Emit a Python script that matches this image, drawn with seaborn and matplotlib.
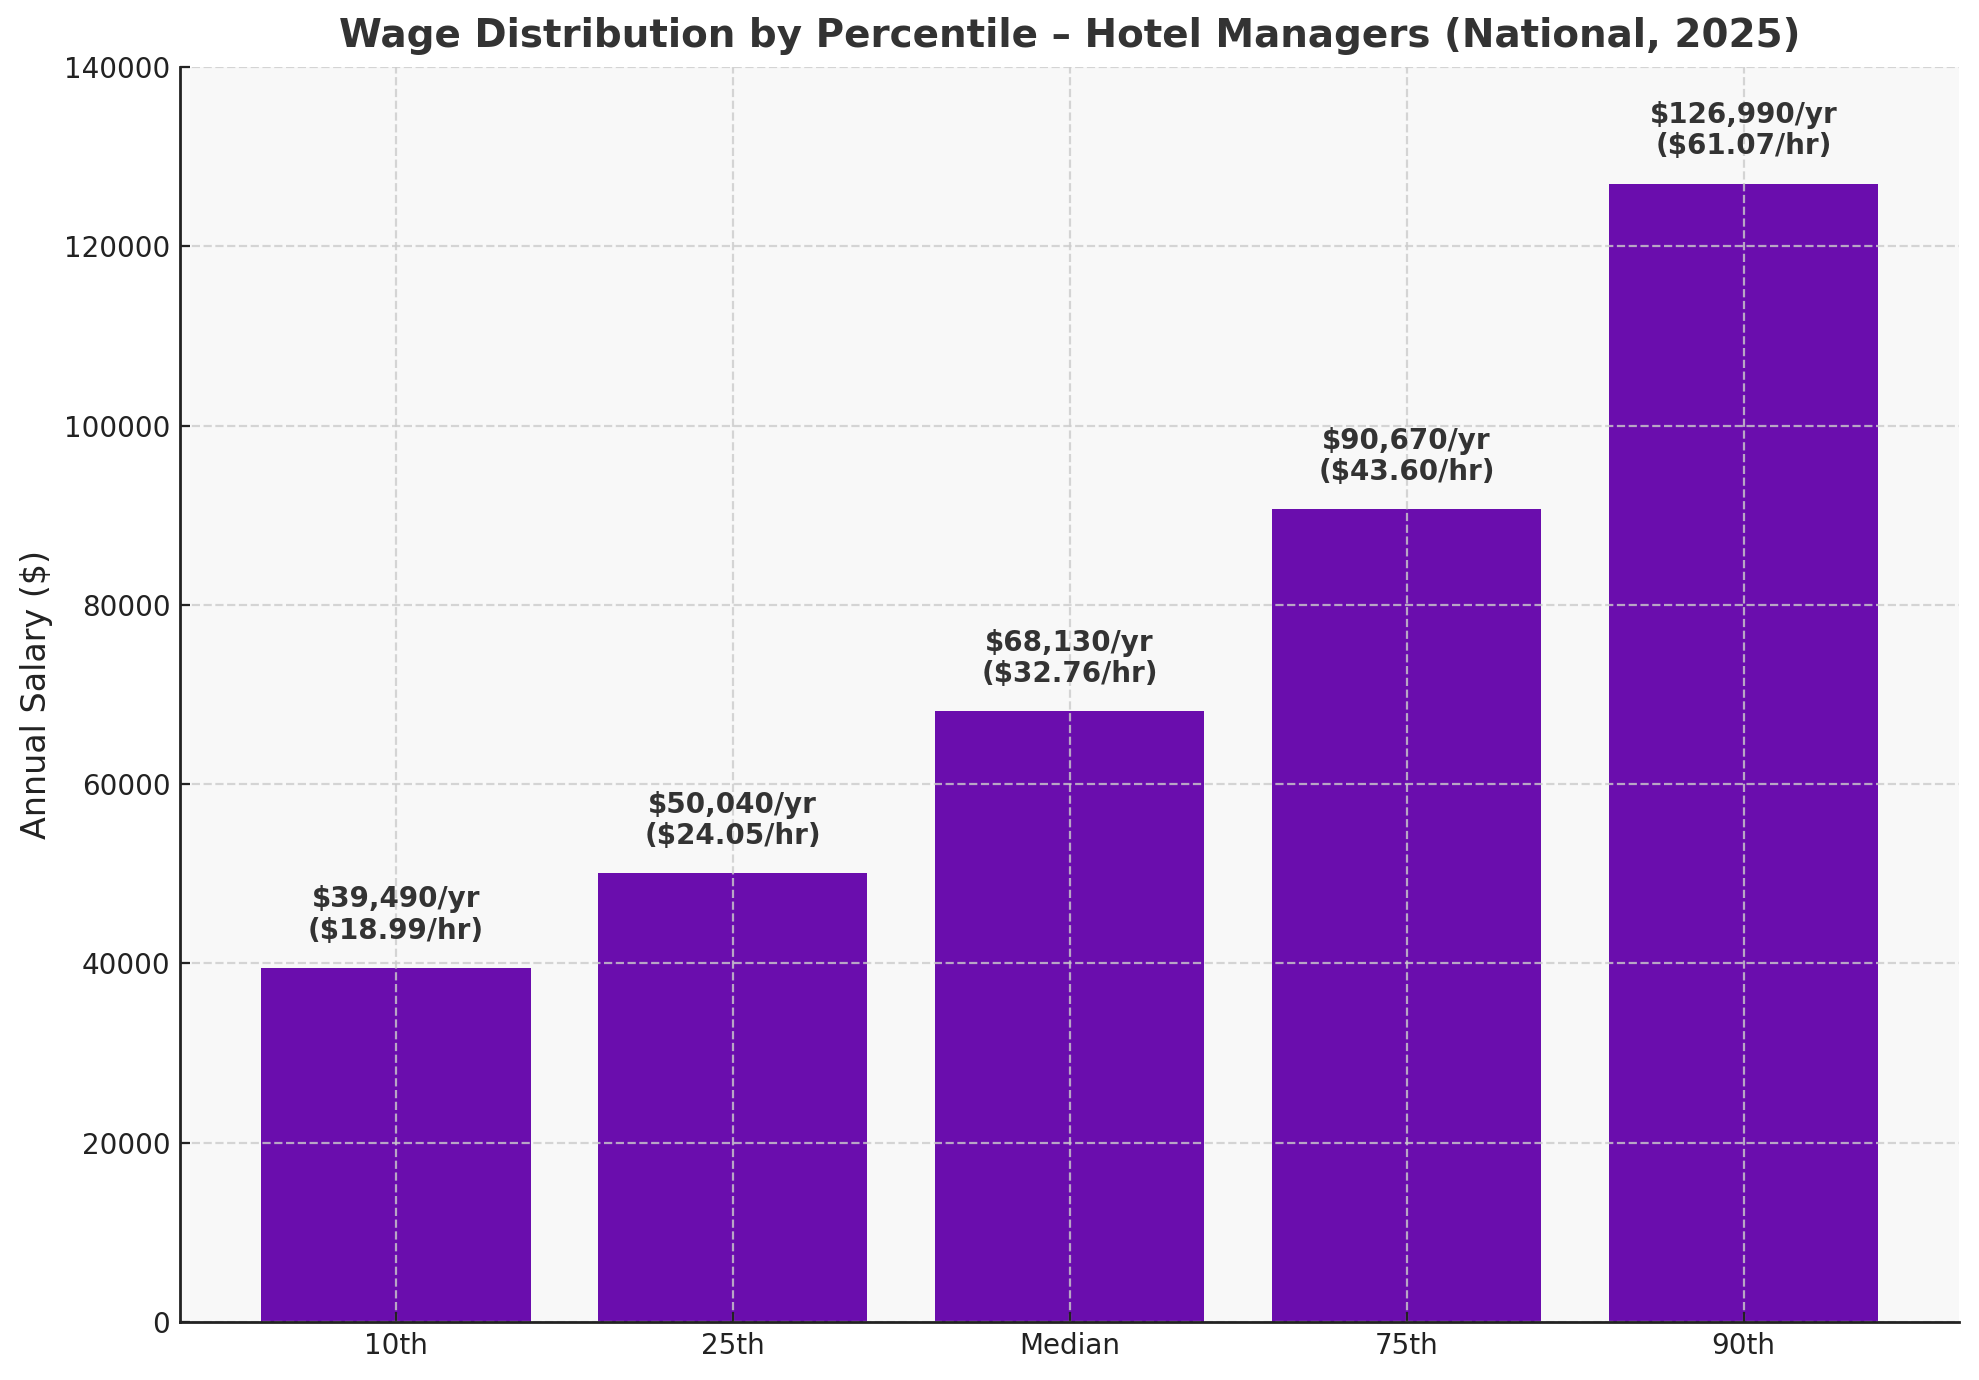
import matplotlib
matplotlib.use("Agg")
import matplotlib.pyplot as plt
import seaborn as sns
import pandas as pd

categories = ["10th", "25th", "Median", "75th", "90th"]
annual = [39490, 50040, 68130, 90670, 126990]
hourly = [18.99, 24.05, 32.76, 43.60, 61.07]
yticks = [0, 20000, 40000, 60000, 80000, 100000, 120000, 140000]

plt.rcParams['font.family'] = ['DejaVu Sans']

df = pd.DataFrame({"Percentile": categories, "Annual": annual})

fig = plt.figure(figsize=(1979 / 200, 1380 / 200), dpi=200)
ax = fig.add_axes([0.091, 0.042, 0.899, 0.9095])
ax.set_facecolor("#f8f8f8")

sns.barplot(data=df, x="Percentile", y="Annual", color="#6a0dad", saturation=1,
            width=0.8, ax=ax, zorder=1)

ax.set_xlim(-0.64, 4.64)
ax.set_ylim(0, 140000)
ax.set_yticks(yticks)
ax.set_yticklabels([str(t) for t in yticks])

ax.set_axisbelow(False)
ax.grid(True, axis="both", linestyle="--", color="#cccccc", linewidth=0.8, alpha=0.8, zorder=1.5)

for i, (a, h) in enumerate(zip(annual, hourly)):
    ax.text(i, a + 2600, f"${a:,}/yr\n(${h:.2f}/hr)", ha="center", va="bottom",
            fontsize=10, fontweight="bold", color="#333333", linespacing=1.15, zorder=3)

ax.set_title("Wage Distribution by Percentile \u2013 Hotel Managers (National, 2025)",
             fontsize=14, fontweight="bold", color="#333333", pad=7)
ax.set_ylabel("Annual Salary ($)", fontsize=12, color="#222222")
ax.set_xlabel("")
ax.tick_params(axis="both", direction="in", length=3.5, labelsize=10, colors="#222222")

for side in ["top", "right"]:
    ax.spines[side].set_visible(False)
for side in ["left", "bottom"]:
    ax.spines[side].set_color("#222222")
    ax.spines[side].set_linewidth(1.0)
    ax.spines[side].set_zorder(4)

fig.savefig("out.png", dpi=200, facecolor="white")
